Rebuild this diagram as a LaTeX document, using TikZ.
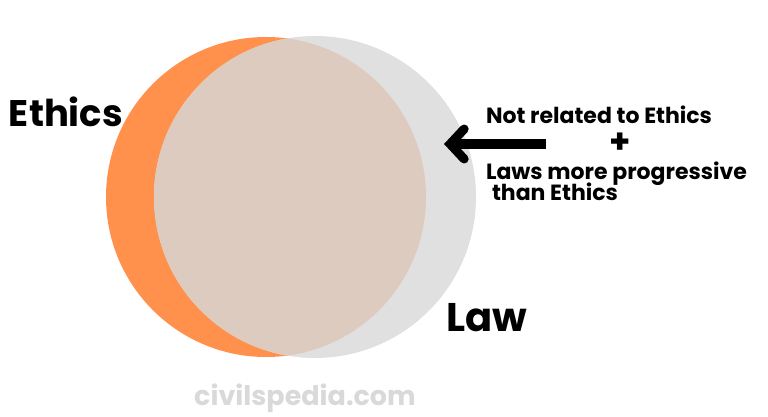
\documentclass[tikz,border=0pt]{standalone}
\usepackage{fontspec}
\setmainfont{Poppins}[BoldFont={* Bold}]
\usepackage{xcolor}
\usetikzlibrary{positioning}
\usetikzlibrary{arrows.meta}
\definecolor{ethicsorange}{HTML}{FF914D}
\definecolor{lawgray}{HTML}{E0E0E0}
\definecolor{overlaptan}{HTML}{DECBBF}
\definecolor{sitegray}{HTML}{D9D9D9}

\begin{document}
\begin{tikzpicture}[x=1pt,y=-1pt,inner sep=0pt,outer sep=0pt,
                    big/.style={font=\bfseries\fontsize{37}{37}\selectfont,anchor=base west},
                    note/.style={font=\bfseries\fontsize{22}{22}\selectfont,anchor=base west},
                    point/.style={line width=9pt,-{Straight Barb[length=14pt,width=30pt,line cap=round]}}]
\useasboundingbox (0,0) rectangle (768,417);
\fill[ethicsorange] (266,197) circle (160);
\fill[lawgray] (315,197) circle (161);
\begin{scope}
  \clip (266,197) circle (160);
  \fill[overlaptan] (315,197) circle (161);
\end{scope}
\node[big] (ethics) at (9,127) {Ethics};
\node[big,font=\bfseries\fontsize{40}{40}\selectfont] (law) at (446,331) {Law};
\node[note] (notrel) at (486,124) {Not related to Ethics};
\node[font=\bfseries\fontsize{34}{34}\selectfont] (plus) at (620,143) {+};
\node[note] (progressive) at (486,179) {Laws more progressive};
\node[note] (than) at (492,200) {than Ethics};
\node[font=\bfseries\fontsize{27}{27}\selectfont,text=sitegray] (site) at (305,398) {civilspedia.com};
\coordinate (tip) at (444,144);
\coordinate (tail) at (546,144);
\draw[point] (tail) -- (tip);
\end{tikzpicture}
\end{document}
